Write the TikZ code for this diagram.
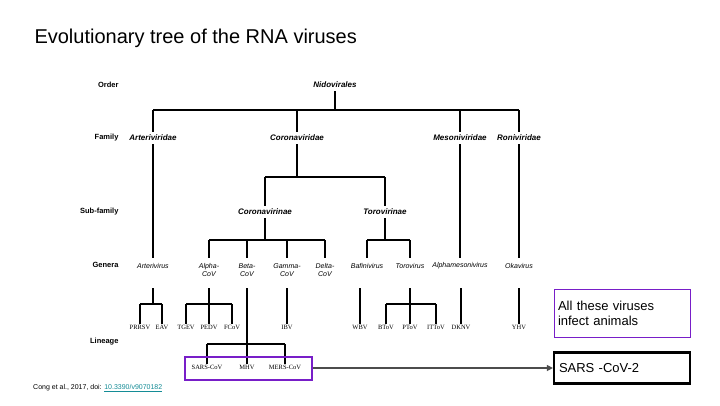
\documentclass[tikz,border=0pt]{standalone}
\usepackage{fontspec}
\setmainfont{Liberation Sans}
\newfontfamily\lser{Liberation Serif}
\usetikzlibrary{arrows.meta}
\definecolor{vio}{RGB}{120,30,200}
\definecolor{lnk}{RGB}{20,140,150}
\begin{document}
\begin{tikzpicture}[x=1pt,y=-1pt,
 tr/.style={line width=1.3pt,black},
 rowl/.style={font=\fontsize{7.5}{8}\selectfont\bfseries,anchor=east},
 fam/.style={font=\fontsize{8}{9}\selectfont\bfseries\itshape},
 gen/.style={font=\fontsize{7}{7.5}\selectfont\itshape,align=center,inner sep=1pt},
 lin/.style={font=\fontsize{6.5}{7}\lser,inner sep=1pt}]
\useasboundingbox[fill=white] (0,0) rectangle (720,405);
\node[anchor=west,font=\fontsize{20}{22}\selectfont] (title) at (31,38) {Evolutionary tree of the RNA viruses};
\node[rowl] (r1) at (122,85) {Order};
\node[rowl] (r2) at (122,138) {Family};
\node[rowl] (r3) at (122,212) {Sub-family};
\node[rowl] (r4) at (122,265) {Genera};
\node[rowl] (r5) at (122,342) {Lineage};
\node[fam] (nido) at (335,85) {Nidovirales};
\node[fam] (arte) at (153,138) {Arteriviridae};
\node[fam] (coro) at (297,138) {Coronaviridae};
\node[fam] (meso) at (460,138) {Mesoniviridae};
\node[fam] (roni) at (519,138) {Roniviridae};
\node[fam] (cvin) at (265,212) {Coronavirinae};
\node[fam] (tvin) at (385,212) {Torovirinae};
\draw[tr] (nido.south) -- (335,110);
\draw[tr] (153,110) -- (519,110);
\foreach \n/\x in {arte/153,coro/297,meso/460,roni/519} \draw[tr] (\x,110) -- (\n.north);
\draw[tr] (coro.south) -- (297,177);
\draw[tr] (265,177) -- (385,177);
\draw[tr] (265,177) -- (cvin.north);
\draw[tr] (385,177) -- (tvin.north);
\node[gen] (g1) at (153,266) {Arterivirus};
\node[gen] (g2) at (209,270) {Alpha-\\CoV};
\node[gen] (g3) at (247,270) {Beta-\\CoV};
\node[gen] (g4) at (287,270) {Gamma-\\CoV};
\node[gen] (g5) at (325,270) {Delta-\\CoV};
\node[gen] (g6) at (367,266) {Bafinivirus};
\node[gen] (g7) at (410,266) {Torovirus};
\node[gen] (g8) at (460,266) {Alphamesonivirus};
\node[gen] (g9) at (519,266) {Okavirus};
\draw[tr] (arte.south) -- (153,258);
\draw[tr] (meso.south) -- (460,258);
\draw[tr] (roni.south) -- (519,258);
\draw[tr] (cvin.south) -- (265,240);
\draw[tr] (209,240) -- (325,240);
\foreach \x in {209,247,287,325} \draw[tr] (\x,240) -- (\x,258);
\draw[tr] (tvin.south) -- (385,240);
\draw[tr] (367,240) -- (410,240);
\foreach \x in {367,410} \draw[tr] (\x,240) -- (\x,258);
\node[lin] (l1) at (140,327) {PRRSV};
\node[lin] (l2) at (162,327) {EAV};
\node[lin] (l3) at (186,327) {TGEV};
\node[lin] (l4) at (209,327) {PEDV};
\node[lin] (l5) at (232,327) {FCoV};
\node[lin] (l6) at (287,327) {IBV};
\node[lin] (l7) at (360,327) {WBV};
\node[lin] (l8) at (386,327) {BToV};
\node[lin] (l9) at (410,327) {PToV};
\node[lin] (l10) at (436,327) {ITToV};
\node[lin] (l11) at (461,327) {DKNV};
\node[lin] (l12) at (519,327) {YHV};
\node[lin] (s1) at (207,367) {SARS-CoV};
\node[lin] (s2) at (247,367) {MHV};
\node[lin] (s3) at (285,367) {MERS-CoV};
\draw[tr] (153,288) -- (153,304);
\draw[tr] (140,304) -- (162,304);
\draw[tr] (140,304) -- (l1.north); \draw[tr] (162,304) -- (l2.north);
\draw[tr] (209,288) -- (209,304);
\draw[tr] (186,304) -- (232,304);
\foreach \n/\x in {l3/186,l4/209,l5/232} \draw[tr] (\x,304) -- (\n.north);
\draw[tr] (287,288) -- (l6.north);
\draw[tr] (360,288) -- (l7.north);
\draw[tr] (410,288) -- (410,304);
\draw[tr] (386,304) -- (436,304);
\foreach \n/\x in {l8/386,l9/410,l10/436} \draw[tr] (\x,304) -- (\n.north);
\draw[tr] (461,288) -- (l11.north);
\draw[tr] (519,288) -- (l12.north);
\draw[tr] (247,288) -- (247,344);
\draw[tr] (207,344) -- (285,344);
\foreach \n/\x in {s1/207,s2/247,s3/285} \draw[tr] (\x,344) -- (\n.north);
\node[draw=vio,line width=2pt,minimum width=127pt,minimum height=23pt] (pbox) at (248.5,368) {};
\node[draw=vio,line width=0.6pt,minimum width=136pt,minimum height=48pt,text width=128pt,align=left,font=\fontsize{13}{15}\selectfont] (anim) at (622,313) {All these viruses\\infect animals};
\node[draw=black,line width=2.2pt,minimum width=136pt,minimum height=31pt,text width=126pt,align=left,font=\fontsize{13}{15}\selectfont] (sars) at (622,368) {SARS -CoV-2};
\draw[line width=1.2pt,draw=black!70,-{Triangle[length=6pt,width=6pt]}] (pbox.east) -- (sars.west);
\node[anchor=west,font=\fontsize{7}{8}\selectfont,inner sep=0pt] (cite) at (33,388) {Cong et al., 2017, doi: \textcolor{lnk}{\underline{10.3390/v9070182}}};
\end{tikzpicture}
\end{document}
